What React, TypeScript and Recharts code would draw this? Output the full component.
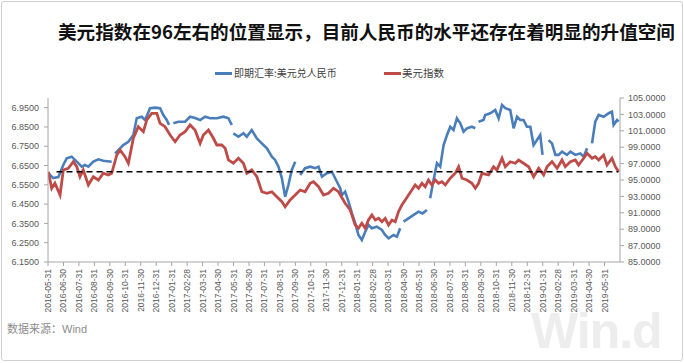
import React from 'react';
import { LineChart, Line, XAxis, YAxis, ReferenceLine } from 'recharts';

// month-end tick labels, t = 0 .. 36
const monthLabels = [
  '2016-05-31', '2016-06-30', '2016-07-31', '2016-08-31', '2016-09-30', '2016-10-31', '2016-11-30', '2016-12-31',
  '2017-01-31', '2017-02-28', '2017-03-31', '2017-04-30', '2017-05-31', '2017-06-30', '2017-07-31', '2017-08-31',
  '2017-09-30', '2017-10-31', '2017-11-30', '2017-12-31', '2018-01-31', '2018-02-28', '2018-03-31', '2018-04-30',
  '2018-05-31', '2018-06-30', '2018-07-31', '2018-08-31', '2018-09-30', '2018-10-31', '2018-11-30', '2018-12-31',
  '2019-01-31', '2019-02-28', '2019-03-31', '2019-04-30', '2019-05-31',
];

const leftTicks = [6.15, 6.25, 6.35, 6.45, 6.55, 6.65, 6.75, 6.85, 6.95];
const rightTicks = [85, 87, 89, 91, 93, 95, 97, 99, 101, 103, 105];
const refLevel = 96;

// [months since 2016-05-31, value]; null = gap in the series
const usdCny: [number, number | null][] = [
  [0.02, 6.61], [0.34, 6.585], [0.67, 6.59], [0.99, 6.653], [1.21, 6.687], [1.53, 6.696], [1.86, 6.67],
  [2.18, 6.644], [2.39, 6.653], [2.61, 6.644], [2.93, 6.67], [3.26, 6.682], [3.58, 6.675], [4.12, 6.67],
  [4.23, null],
  [4.34, 6.713], [4.55, 6.73], [4.87, 6.756], [5.2, 6.773], [5.52, 6.808], [5.74, 6.895], [6.06, 6.903],
  [6.28, 6.886], [6.6, 6.947], [6.93, 6.95], [7.25, 6.947], [7.46, 6.912], [7.68, 6.886], [7.83, 6.86],
  [7.97, null],
  [8.11, 6.869], [8.43, 6.877], [8.87, 6.877], [9.19, 6.903], [9.51, 6.896], [9.84, 6.886], [10.16, 6.903],
  [10.49, 6.895], [10.92, 6.895], [11.35, 6.903], [11.67, 6.895], [11.89, 6.86],
  [11.94, null],
  [11.99, 6.817], [12.32, 6.799], [12.64, 6.817], [12.86, 6.799], [13.18, 6.834], [13.51, 6.791],
  [13.83, 6.765], [14.16, 6.739], [14.48, 6.696], [14.69, 6.679], [14.91, 6.644], [15.13, 6.584],
  [15.34, 6.488], [15.55, 6.549], [15.77, 6.627], [15.99, 6.67],
  [16.15, null],
  [16.31, 6.601], [16.63, 6.636], [16.96, 6.644], [17.28, 6.636], [17.5, 6.644], [17.72, 6.592],
  [18.04, 6.61], [18.36, 6.618], [18.69, 6.566], [18.9, 6.532], [19.01, 6.497], [19.22, 6.514],
  [19.44, 6.463], [19.66, 6.402], [19.87, 6.351], [20.08, 6.29], [20.3, 6.264], [20.52, 6.307],
  [20.73, 6.342], [20.95, 6.325], [21.27, 6.333], [21.6, 6.316], [21.81, 6.29], [22.03, 6.273],
  [22.35, 6.29], [22.57, 6.281], [22.78, 6.325],
  [22.89, null],
  [23.0, 6.359], [23.32, 6.376], [23.65, 6.394], [23.97, 6.411], [24.23, 6.402], [24.51, 6.42],
  [24.62, null],
  [24.72, 6.48], [24.94, 6.575], [25.16, 6.662], [25.37, 6.644], [25.59, 6.756], [25.81, 6.808],
  [26.02, 6.851], [26.23, 6.834], [26.45, 6.895], [26.67, 6.869], [26.88, 6.825], [27.1, 6.843],
  [27.42, 6.851], [27.64, 6.843],
  [27.75, null],
  [27.85, 6.877], [28.17, 6.886], [28.28, 6.912], [28.61, 6.921], [28.93, 6.938], [29.15, 6.895],
  [29.37, 6.964], [29.58, 6.947], [29.9, 6.938], [30.12, 6.843], [30.34, 6.903], [30.55, 6.886],
  [30.76, 6.886], [30.98, 6.851], [31.2, 6.851], [31.41, 6.756], [31.63, 6.782], [31.84, 6.808],
  [31.99, 6.705],
  [32.18, null],
  [32.38, 6.782], [32.6, 6.765], [32.82, 6.705], [33.03, 6.705], [33.25, 6.722], [33.57, 6.705],
  [33.79, 6.722], [34.11, 6.705], [34.43, 6.713], [34.65, 6.696], [34.87, 6.739],
  [35.03, null],
  [35.19, 6.765], [35.4, 6.877], [35.62, 6.912], [35.94, 6.903], [36.27, 6.921], [36.48, 6.929],
  [36.59, 6.86], [36.81, 6.886], [36.91, 6.877],
];

const dxy: [number, number][] = [
  [0.02, 96.01], [0.24, 93.99], [0.45, 94.6], [0.78, 93.17], [0.99, 96.22], [1.31, 96.43], [1.64, 97.23],
  [1.86, 96.62], [2.07, 95.4], [2.28, 96.22], [2.61, 94.39], [2.93, 95.4], [3.26, 95.0], [3.58, 95.82],
  [3.9, 95.61], [4.12, 95.82], [4.45, 98.05], [4.66, 98.66], [4.98, 97.84], [5.2, 97.04], [5.52, 100.09],
  [5.84, 101.5], [6.17, 100.89], [6.39, 102.32], [6.71, 103.13], [7.04, 103.13], [7.25, 101.91],
  [7.57, 101.5], [7.9, 100.49], [8.22, 99.67], [8.54, 100.49], [8.87, 100.89], [9.19, 101.71],
  [9.51, 101.1], [9.84, 99.48], [10.05, 100.49], [10.38, 101.1], [10.7, 100.09], [10.92, 99.27],
  [11.24, 99.27], [11.46, 98.87], [11.67, 97.44], [11.99, 97.04], [12.32, 97.65], [12.64, 97.04],
  [12.86, 95.82], [13.18, 96.22], [13.51, 95.4], [13.83, 93.57], [14.16, 93.38], [14.48, 93.57],
  [14.8, 92.96], [15.13, 92.35], [15.34, 91.74], [15.66, 92.56], [15.99, 93.17], [16.31, 93.78],
  [16.63, 93.57], [16.96, 94.6], [17.17, 94.79], [17.5, 94.18], [17.82, 93.17], [18.14, 93.38],
  [18.47, 93.99], [18.79, 93.57], [19.22, 92.16], [19.55, 91.34], [19.87, 89.51], [20.08, 89.11],
  [20.3, 89.72], [20.52, 89.11], [20.73, 90.12], [20.95, 90.73], [21.17, 90.12], [21.38, 90.33],
  [21.6, 89.91], [21.81, 90.33], [22.03, 89.51], [22.25, 90.12], [22.46, 89.91], [22.67, 91.13],
  [22.89, 91.95], [23.11, 92.56], [23.32, 93.17], [23.54, 93.78], [23.75, 94.39], [23.97, 93.99],
  [24.19, 94.6], [24.4, 94.18], [24.61, 95.0], [24.83, 94.39], [25.05, 95.0], [25.26, 94.6],
  [25.48, 94.79], [25.7, 94.39], [26.02, 95.21], [26.34, 95.82], [26.56, 96.62], [26.78, 95.21],
  [27.1, 95.0], [27.42, 94.6], [27.64, 93.99], [27.85, 94.6], [28.07, 95.82], [28.5, 95.61],
  [28.82, 96.62], [29.04, 96.22], [29.37, 97.65], [29.58, 96.62], [29.9, 97.23], [30.23, 97.04],
  [30.44, 97.44], [30.76, 97.04], [31.09, 96.62], [31.41, 95.4], [31.74, 96.43], [32.06, 95.61],
  [32.28, 96.62], [32.6, 97.23], [32.93, 96.43], [33.25, 97.44], [33.46, 96.62], [33.79, 97.23],
  [34.11, 97.44], [34.32, 96.83], [34.65, 97.65], [34.87, 98.26], [35.19, 97.65], [35.4, 97.84],
  [35.62, 97.44], [35.94, 98.05], [36.16, 96.83], [36.48, 97.65], [36.7, 96.62], [36.91, 96.01],
];

const BLUE = '#4A7EBB';
const RED = '#BE4B48';
const AXIS = '#a6a6a6';
const cjk = '"Noto Sans CJK SC", "Noto Sans", sans-serif';
const latin = '"Liberation Sans", Arial, sans-serif';

const cnyData = usdCny.map(([t, v]) => ({ t, v }));
const dxyData = dxy.map(([t, v]) => ({ t, v }));

const DateTick = (props: any) => {
  const { x, y, payload } = props;
  return (
    <text
      x={x}
      y={y}
      transform={`rotate(-90 ${x} ${y})`}
      textAnchor="end"
      dominantBaseline="central"
      fontSize={8.5}
      fontFamily={latin}
      fill="#595959"
    >
      {monthLabels[payload.value]}
    </text>
  );
};

export default function App() {
  return (
    <div
      style={{
        position: 'absolute',
        left: 0,
        top: 0,
        width: 684,
        height: 363,
        background: '#fff',
        fontFamily: cjk,
      }}
    >
      <div
        style={{
          position: 'absolute',
          left: 1,
          top: 1,
          width: 680,
          height: 358,
          border: '1px solid #cfcfcf',
          borderRadius: 3,
        }}
      />
      <div
        style={{
          position: 'absolute',
          left: 531,
          top: 302,
          fontFamily: latin,
          fontWeight: 700,
          fontSize: 50,
          color: '#ededed',
          letterSpacing: -1,
        }}
      >
        Win.d
      </div>
      <div
        style={{
          position: 'absolute',
          left: 58,
          top: 18,
          fontSize: 18.6,
          fontWeight: 700,
          color: '#111',
          whiteSpace: 'nowrap',
          lineHeight: '26px',
        }}
      >
        美元指数在96左右的位置显示，目前人民币的水平还存在着明显的升值空间
      </div>
      <div style={{ position: 'absolute', left: 215, top: 72, width: 17, height: 2.5, background: BLUE }} />
      <div
        style={{ position: 'absolute', left: 234, top: 65, fontSize: 10, color: '#404040', lineHeight: '16px' }}
      >
        即期汇率:美元兑人民币
      </div>
      <div style={{ position: 'absolute', left: 384, top: 72, width: 17, height: 2.5, background: RED }} />
      <div
        style={{ position: 'absolute', left: 402, top: 65, fontSize: 10.5, color: '#404040', lineHeight: '16px' }}
      >
        美元指数
      </div>
      <div
        style={{ position: 'absolute', left: 7, top: 319, fontSize: 11, color: '#8c8c8c', lineHeight: '18px' }}
      >
        数据来源：<span style={{ fontFamily: latin }}>Wind</span>
      </div>

      <div style={{ position: 'absolute', left: 0, top: 0 }}>
        <LineChart width={684} height={363} margin={{ top: 98, right: 0, bottom: 0, left: 0 }}>
          <XAxis
            dataKey="t"
            type="number"
            domain={[0, 37]}
            ticks={monthLabels.map((_, i) => i)}
            interval={0}
            allowDataOverflow
            height={101}
            stroke={AXIS}
            tickSize={4}
            tickMargin={3}
            tick={<DateTick />}
          />
          <YAxis
            yAxisId="left"
            orientation="left"
            width={48}
            domain={[6.15, 7.0]}
            ticks={leftTicks}
            interval={0}
            allowDataOverflow
            stroke={AXIS}
            tickSize={4}
            tickMargin={5}
            tickFormatter={(v: number) => v.toFixed(4)}
            tick={{ fontSize: 9, fill: '#595959', fontFamily: latin }}
          />
          <YAxis
            yAxisId="right"
            orientation="right"
            width={64}
            domain={[85, 105]}
            ticks={rightTicks}
            interval={0}
            allowDataOverflow
            stroke={AXIS}
            tickSize={4}
            tickMargin={4}
            tickFormatter={(v: number) => v.toFixed(4)}
            tick={{ fontSize: 9, fill: '#595959', fontFamily: latin, textAnchor: 'start' }}
          />
          <Line
            yAxisId="left"
            data={cnyData}
            dataKey="v"
            type="linear"
            stroke={BLUE}
            strokeWidth={2.6}
            dot={false}
            activeDot={false}
            connectNulls={false}
            isAnimationActive={false}
          />
          <Line
            yAxisId="right"
            data={dxyData}
            dataKey="v"
            type="linear"
            stroke={RED}
            strokeWidth={2.8}
            dot={false}
            activeDot={false}
            isAnimationActive={false}
          />
          <ReferenceLine
            yAxisId="right"
            segment={[
              { x: 0.55, y: refLevel },
              { x: 36.9, y: refLevel },
            ]}
            stroke="#000"
            strokeWidth={1.5}
            strokeDasharray="6 4"
          />
        </LineChart>
      </div>
    </div>
  );
}
